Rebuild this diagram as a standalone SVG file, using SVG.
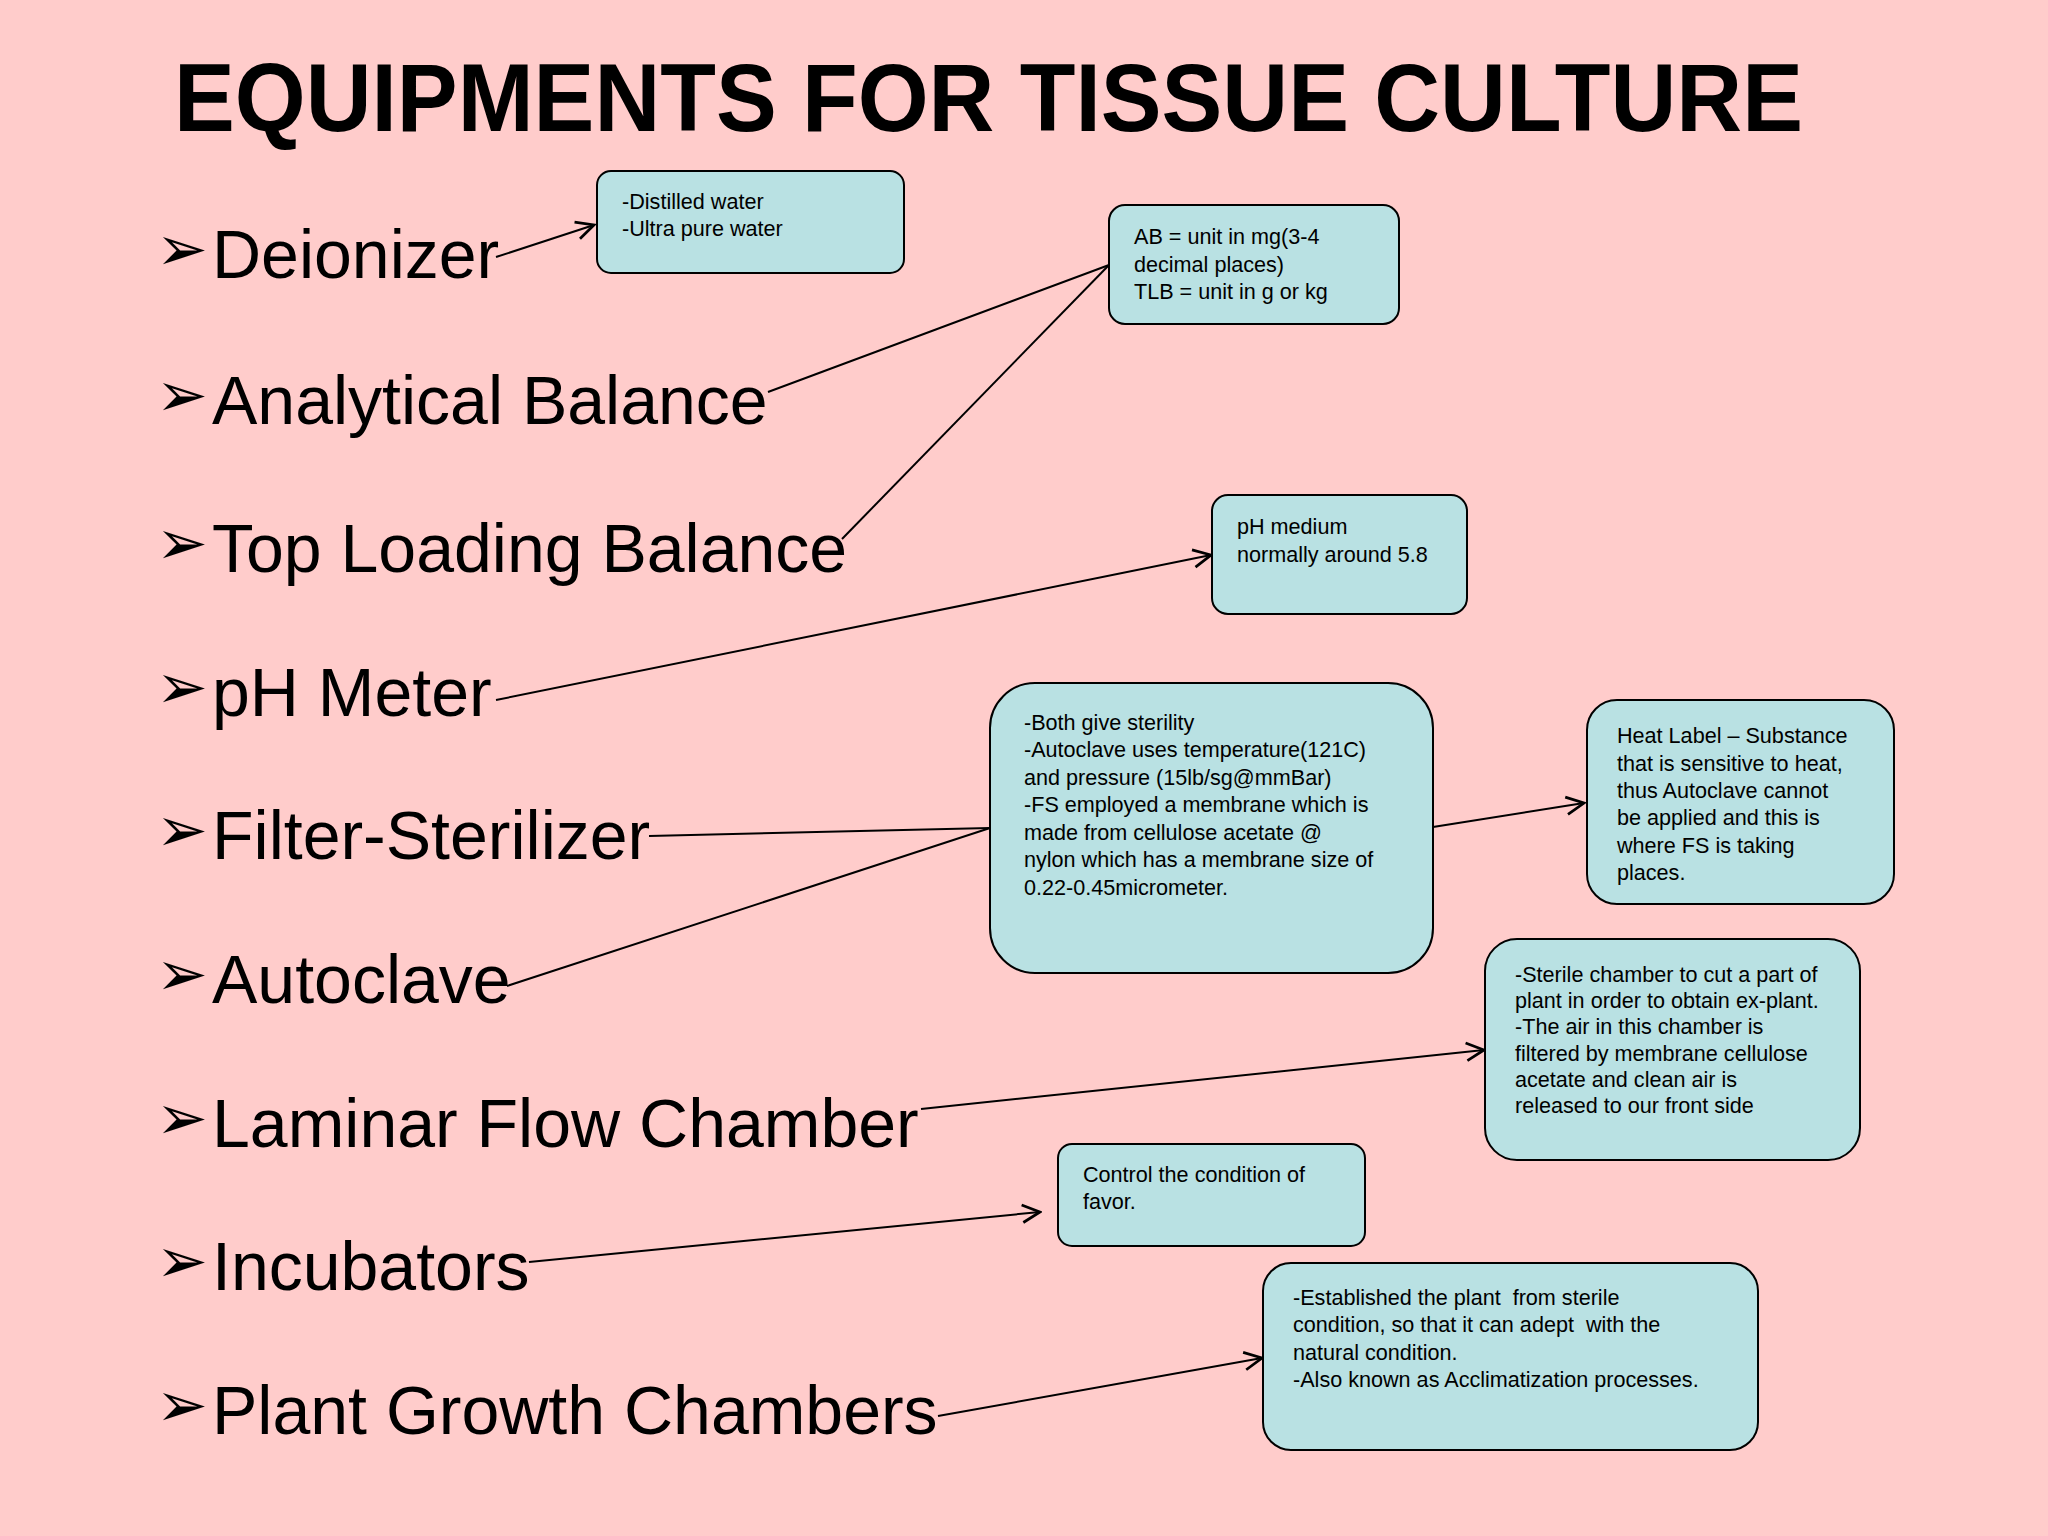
<svg xmlns="http://www.w3.org/2000/svg" width="2048" height="1536" viewBox="0 0 2048 1536">
<style>
.item{font-family:"Liberation Sans",Arial,sans-serif;font-size:68px;fill:#000}
.bul{font-family:"DejaVu Sans",sans-serif;font-size:62px;font-weight:bold;fill:#000}
.box{fill:#b9e1e3;stroke:#000;stroke-width:2}
.t{font-family:"Liberation Sans",Arial,sans-serif;font-size:21.6px;fill:#000;white-space:pre}
.c{stroke:#000;stroke-width:2;fill:none}
</style>
<defs><marker id="a" viewBox="0 0 20 20" refX="18" refY="10" markerWidth="22" markerHeight="22" markerUnits="userSpaceOnUse" orient="auto"><path d="M2,2 L18,10 L2,18" fill="none" stroke="#000" stroke-width="2.5"/></marker></defs>
<rect width="2048" height="1536" fill="#ffcccb"/>
<text x="174" y="131" font-family="Liberation Sans,Arial,sans-serif" font-weight="bold" font-size="96" textLength="1629" lengthAdjust="spacingAndGlyphs">EQUIPMENTS FOR TISSUE CULTURE</text>
<g id="list">
<text class="bul" x="156" y="270">➢</text><text class="item" x="212" y="278">Deionizer</text>
<text class="bul" x="156" y="416">➢</text><text class="item" x="212" y="424">Analytical Balance</text>
<text class="bul" x="156" y="564">➢</text><text class="item" x="212" y="572">Top Loading Balance</text>
<text class="bul" x="156" y="708">➢</text><text class="item" x="212" y="716">pH Meter</text>
<text class="bul" x="156" y="851">➢</text><text class="item" x="212" y="859">Filter-Sterilizer</text>
<text class="bul" x="156" y="995">➢</text><text class="item" x="212" y="1003">Autoclave</text>
<text class="bul" x="156" y="1139">➢</text><text class="item" x="212" y="1147">Laminar Flow Chamber</text>
<text class="bul" x="156" y="1282">➢</text><text class="item" x="212" y="1290">Incubators</text>
<text class="bul" x="156" y="1426">➢</text><text class="item" x="212" y="1434">Plant Growth Chambers</text>
</g>
<g id="connectors">
<line class="c" x1="496" y1="257" x2="594" y2="225" marker-end="url(#a)"/>
<line class="c" x1="768" y1="392" x2="1109" y2="265"/>
<line class="c" x1="842" y1="539" x2="1109" y2="265"/>
<line class="c" x1="496" y1="700" x2="1211" y2="555" marker-end="url(#a)"/>
<line class="c" x1="649" y1="836" x2="990" y2="828"/>
<line class="c" x1="507" y1="986" x2="990" y2="828"/>
<line class="c" x1="1433" y1="827" x2="1584" y2="803" marker-end="url(#a)"/>
<line class="c" x1="921" y1="1109" x2="1484" y2="1050" marker-end="url(#a)"/>
<line class="c" x1="529" y1="1262" x2="1040" y2="1212" marker-end="url(#a)"/>
<line class="c" x1="938" y1="1416" x2="1262" y2="1358" marker-end="url(#a)"/>
</g>
<g id="b1"><rect class="box" x="597" y="171" width="307" height="102" rx="14"/>
<text class="t" x="622" y="209">-Distilled water</text><text class="t" x="622" y="236">-Ultra pure water</text></g>
<g id="b2"><rect class="box" x="1109" y="205" width="290" height="119" rx="16"/>
<text class="t" x="1134" y="244">AB = unit in mg(3-4</text><text class="t" x="1134" y="272">decimal places)</text><text class="t" x="1134" y="299">TLB = unit in g or kg</text></g>
<g id="b3"><rect class="box" x="1212" y="495" width="255" height="119" rx="16"/>
<text class="t" x="1237" y="534">pH medium</text><text class="t" x="1237" y="562">normally around 5.8</text></g>
<g id="b4"><rect class="box" x="990" y="683" width="443" height="290" rx="45"/>
<text class="t" x="1024" y="730">-Both give sterility</text>
<text class="t" x="1024" y="757">-Autoclave uses temperature(121C)</text>
<text class="t" x="1024" y="785">and pressure (15lb/sg@mmBar)</text>
<text class="t" x="1024" y="812">-FS employed a membrane which is</text>
<text class="t" x="1024" y="840">made from cellulose acetate @</text>
<text class="t" x="1024" y="867">nylon which has a membrane size of</text>
<text class="t" x="1024" y="895">0.22-0.45micrometer.</text></g>
<g id="b5"><rect class="box" x="1587" y="700" width="307" height="204" rx="30"/>
<text class="t" x="1617" y="743">Heat Label – Substance</text>
<text class="t" x="1617" y="771">that is sensitive to heat,</text>
<text class="t" x="1617" y="798">thus Autoclave cannot</text>
<text class="t" x="1617" y="825">be applied and this is</text>
<text class="t" x="1617" y="853">where FS is taking</text>
<text class="t" x="1617" y="880">places.</text></g>
<g id="b6"><rect class="box" x="1485" y="939" width="375" height="221" rx="32"/>
<text class="t" x="1515" y="982">-Sterile chamber to cut a part of</text>
<text class="t" x="1515" y="1008">plant in order to obtain ex-plant.</text>
<text class="t" x="1515" y="1034">-The air in this chamber is</text>
<text class="t" x="1515" y="1061">filtered by membrane cellulose</text>
<text class="t" x="1515" y="1087">acetate and clean air is</text>
<text class="t" x="1515" y="1113">released to our front side</text></g>
<g id="b7"><rect class="box" x="1058" y="1144" width="307" height="102" rx="14"/>
<text class="t" x="1083" y="1182">Control the condition of</text><text class="t" x="1083" y="1209">favor.</text></g>
<g id="b8"><rect class="box" x="1263" y="1263" width="495" height="187" rx="28"/>
<text class="t" x="1293" y="1305">-Established the plant  from sterile</text>
<text class="t" x="1293" y="1332">condition, so that it can adept  with the</text>
<text class="t" x="1293" y="1360">natural condition.</text>
<text class="t" x="1293" y="1387">-Also known as Acclimatization processes.</text></g>
</svg>
